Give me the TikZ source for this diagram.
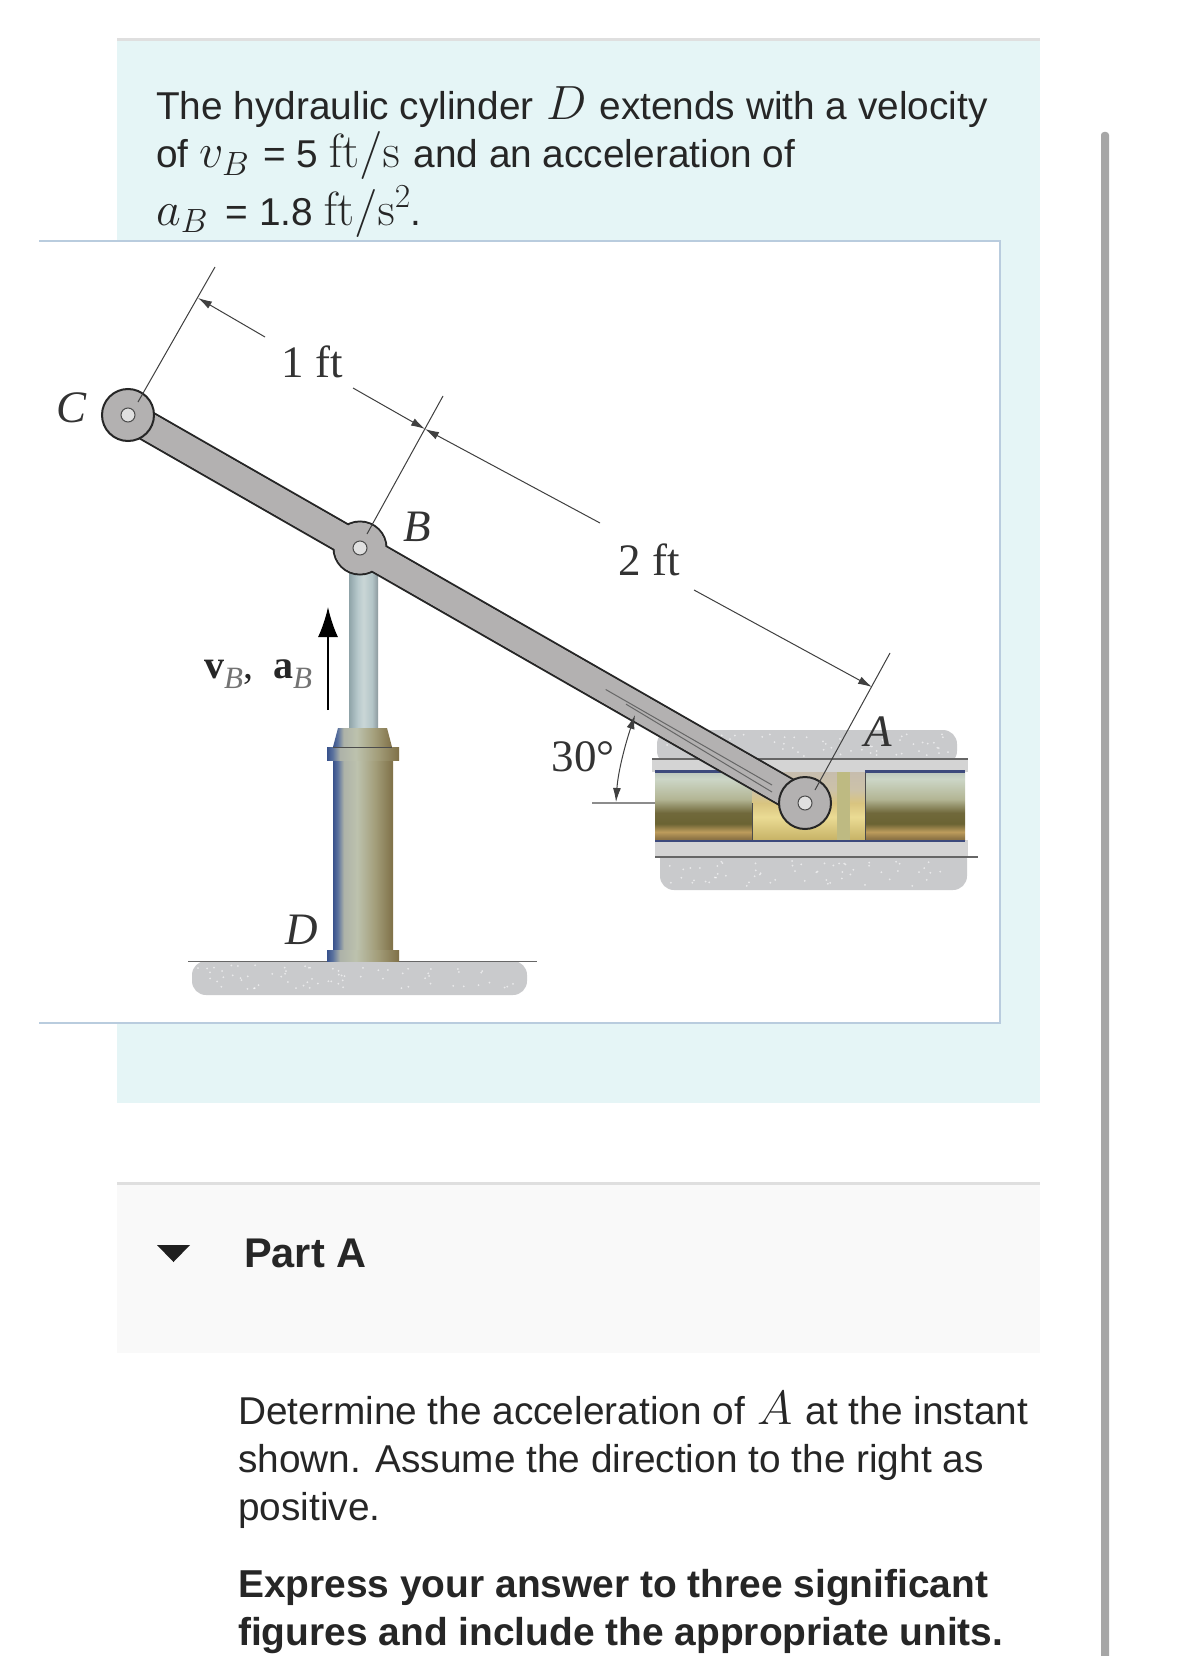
\RequirePackage{fix-cm}
\documentclass[tikz,border=0pt]{standalone}
\usepackage[no-math]{fontspec}
\usetikzlibrary{calc,arrows.meta}
\setmainfont{Liberation Sans}
\newfontfamily\figfont{Liberation Serif}

\definecolor{panelteal}{HTML}{E5F5F6}
\definecolor{panelgrey}{HTML}{F9F9F9}
\definecolor{ruleblue}{HTML}{B9CCDE}
\definecolor{rulegrey}{HTML}{DFDFDF}
\definecolor{linkgrey}{HTML}{B3B1B1}
\definecolor{soilgrey}{HTML}{C9CACC}
\definecolor{inkblack}{HTML}{262626}
\definecolor{tubeblue}{HTML}{3D4A7C}

\pgfdeclarehorizontalshading{rodshade}{100bp}{
  rgb(0bp)=(0.56,0.64,0.66); rgb(25bp)=(0.56,0.64,0.66); rgb(40bp)=(0.72,0.79,0.80);
  rgb(50bp)=(0.79,0.84,0.84); rgb(65bp)=(0.70,0.77,0.78); rgb(75bp)=(0.55,0.60,0.62); rgb(100bp)=(0.55,0.60,0.62)}
\pgfdeclarehorizontalshading{bodyshade}{100bp}{
  rgb(0bp)=(0.22,0.32,0.55); rgb(25bp)=(0.22,0.32,0.55); rgb(29bp)=(0.36,0.45,0.62); rgb(34bp)=(0.68,0.70,0.66);
  rgb(45bp)=(0.74,0.76,0.68); rgb(60bp)=(0.64,0.62,0.48); rgb(75bp)=(0.50,0.44,0.28); rgb(100bp)=(0.50,0.44,0.28)}
\pgfdeclareverticalshading{tubeshade}{100bp}{
  rgb(0bp)=(0.55,0.45,0.27); rgb(26bp)=(0.55,0.45,0.27); rgb(31bp)=(0.74,0.61,0.36);
  rgb(37bp)=(0.42,0.39,0.20); rgb(45bp)=(0.44,0.41,0.23); rgb(55bp)=(0.70,0.71,0.58);
  rgb(70bp)=(0.80,0.84,0.78); rgb(75bp)=(0.74,0.78,0.74); rgb(100bp)=(0.74,0.78,0.74)}
\pgfdeclareverticalshading{slideshade}{100bp}{
  rgb(0bp)=(0.78,0.70,0.40); rgb(25bp)=(0.78,0.70,0.40); rgb(42bp)=(0.92,0.86,0.58); rgb(52bp)=(0.85,0.77,0.50);
  rgb(62bp)=(0.80,0.76,0.66); rgb(75bp)=(0.78,0.74,0.68); rgb(100bp)=(0.78,0.74,0.68)}

\newcommand{\bigmath}[1]{{\fontsize{48}{47}\selectfont$#1$}}

\tikzset{
  soil/.style={fill=soilgrey,rounded corners=14pt},
  edgeline/.style={draw=black!85,line width=2pt},
  hingeface/.style={fill=linkgrey,edgeline},
  holeface/.style={fill=black!12,draw=black!70,line width=1pt,circle,minimum size=14pt,inner sep=0pt},
  thinline/.style={draw=black!75,line width=1pt},
  dimline/.style={thinline,-{Latex[length=14pt,width=8pt]}},
  figlabel/.style={font=\figfont\fontsize{45}{45}\selectfont\itshape,text=black!80,inner sep=0pt},
  dimlabel/.style={font=\figfont\fontsize{45}{45}\selectfont,text=black!80,inner sep=0pt},
  bodytext/.style={font=\fontsize{38.8}{47}\selectfont,text=inkblack,anchor=base west,inner sep=0pt},
  boldtext/.style={font=\fontsize{38.9}{47}\selectfont\bfseries,text=inkblack,anchor=base west,inner sep=0pt}
}

\begin{document}
\begin{tikzpicture}[x=1pt,y=-1pt]
  \useasboundingbox (0,0) rectangle (1179,1656);
  \fill[white] (0,0) rectangle (1179,1656);

  %% Panels behind the text
  \fill[panelteal] (117,38) rectangle (1040,1103);
  \fill[rulegrey] (117,38) rectangle (1040,41);
  \fill[panelgrey] (117,1182) rectangle (1040,1353);
  \fill[rulegrey] (117,1182) rectangle (1040,1185);
  \fill[black!35,rounded corners=3pt] (1101,132) rectangle (1109,1670);

  %% Figure frame, open on its left side
  \fill[white] (39,240) rectangle (1000,1023);
  \draw[ruleblue,line width=2.5pt] (39,241) -- (1000,241) -- (1000,1023) -- (39,1023);

  %% Problem statement
  \node[bodytext] (LINE1) at (156,120) {The hydraulic cylinder\hspace{2pt} \bigmath{D}\hspace{2pt} extends with a velocity};
  \node[bodytext] (LINE2) at (156,168) {of \bigmath{v_B}\hspace{3pt} = 5 \bigmath{\mathrm{ft/s}}\hspace{3pt} and an acceleration of};
  \node[bodytext] (LINE3) at (156,225) {\bigmath{a_B}\hspace{7pt} = 1.8 \bigmath{\mathrm{ft/s^2}}.};

  %% Ground under the cylinder
  \fill[soil] (192,961) rectangle (527,995);
  \pgfmathsetseed{7}
  \foreach \n in {1,...,70}
  {
    \fill[white,opacity=0.6] ({198+320*rnd},{965+24*rnd}) circle (1pt);
  }
  \draw[black!60,line width=1pt] (188,961) -- (537,961);

  %% Guide for the slider
  \fill[soil] (657,730) rectangle (957,765);
  \fill[soil] (660,845) rectangle (967,890);
  \foreach \n in {1,...,60}
  {
    \fill[white,opacity=0.6] ({665+285*rnd},{734+22*rnd}) circle (1pt);
    \fill[white,opacity=0.6] ({668+290*rnd},{860+26*rnd}) circle (1pt);
  }
  \fill[black!17] (652,759) rectangle (968,772);
  \fill[black!17] (655,840) rectangle (968,857);
  \draw[black!60,line width=1.5pt] (652,759) -- (968,759);
  \draw[black!60,line width=2pt] (655,857) -- (978,857);
  \shade[shading=tubeshade] (655,772) rectangle (965,840);
  \shade[shading=slideshade] (752,772) rectangle (865,840);
  \fill[black!30!olive!45] (837,772) rectangle (850,840);
  \draw[black!70,line width=1pt] (752,803) -- (752,840) (865,772) -- (865,840);
  \draw[tubeblue,line width=3pt] (655,771) -- (752,771) (865,771) -- (965,771);
  \draw[tubeblue,line width=2pt] (655,841) -- (965,841);

  %% Cylinder D
  \shade[shading=rodshade] (349,565) rectangle (378,728);
  \shade[shading=bodyshade] (333,760) rectangle (393,950);
  \shade[shading=bodyshade] (338,728) -- (387,728) -- (392,747) -- (333,747) -- cycle;
  \shade[shading=bodyshade] (327,747) rectangle (399,760);
  \shade[shading=bodyshade] (327,950) rectangle (399,961);
  \draw[black!70,line width=1pt] (333,747) -- (392,747);

  %% Hinge points and end points of the connectors
  \node[holeface] (C) at (128,415) {};
  \node[holeface] (B) at (360,548) {};
  \node[holeface] (A) at (805,803) {};
  \coordinate (CIN) at (138,402);
  \coordinate (COUT) at (215,267);
  \coordinate (BIN) at (367,534);
  \coordinate (BOUT) at (443,396);
  \coordinate (AIN) at (815,790);
  \coordinate (AOUT) at (890,653);

  %% Link from C to A, the hinge at B bulges out of it
  \coordinate (CU) at ($(C)!14.5pt!-90:(A)$);
  \coordinate (CL) at ($(C)!14.5pt!90:(A)$);
  \coordinate (AU) at ($(A)!14.5pt!90:(C)$);
  \coordinate (AL) at ($(A)!14.5pt!-90:(C)$);
  \draw[edgeline,fill=linkgrey] (B) circle (26.5pt);
  \draw[edgeline,fill=linkgrey] (CU) -- (AU) -- (AL) -- (CL) -- cycle;
  \fill[linkgrey] (B) circle (25.5pt);
  \fill[linkgrey] ($(C)!13.5pt!-90:(A)$) -- ($(A)!13.5pt!90:(C)$) -- ($(A)!13.5pt!-90:(C)$) -- ($(C)!13.5pt!90:(A)$) -- cycle;
  \draw[black!60,line width=1pt] ($(C)!0.71!(A)+(-3,-1)$) -- (772,785);
  \draw[black!60,line width=1pt] ($(C)!0.74!(A)+(-3,2)$) -- (772,792);
  \draw[hingeface] (C) circle (26pt);
  \draw[hingeface] (A) circle (26pt);
  \foreach \hinge in {C,B,A}
  {
    \node[holeface] at (\hinge) {};
  }

  %% Extension lines
  \draw[thinline] (CIN) -- (COUT);
  \draw[thinline] (BIN) -- (BOUT);
  \draw[thinline] (AIN) -- (AOUT);

  %% Length dimensions
  \coordinate (ONEL) at (198,298);
  \coordinate (ONEM) at (425,429);
  \coordinate (TWOR) at (872,687);
  \node[dimlabel] (ONEFT) at (312,362) {1 ft};
  \node[dimlabel] (TWOFT) at (649,560) {2 ft};
  \coordinate (ONEA) at (265,337);
  \coordinate (ONEB) at (353,388);
  \coordinate (TWOA) at (600,523);
  \coordinate (TWOB) at (694,590);
  \draw[dimline] (ONEA) -- (ONEL);
  \draw[dimline] (ONEB) -- (ONEM);
  \draw[dimline] (TWOA) -- (ONEM);
  \draw[dimline] (TWOB) -- (TWOR);

  %% Angle between link and horizontal
  \coordinate (HORL) at (592,803);
  \coordinate (HORR) at (655,803);
  \draw[black!45,line width=1.5pt] (HORL) -- (HORR);
  \draw[thinline,{Latex[length=14pt,width=8pt]}-{Latex[length=14pt,width=8pt]}] (635,715) .. controls (625,745) and (618,772) .. (616,802);
  \node[dimlabel] (ANGLE) at (583,757) {30\textdegree};

  %% Velocity arrow
  \coordinate (VTAIL) at (328,710);
  \coordinate (VTIP) at (328,607);
  \draw[black,line width=2pt,-{Latex[length=30pt,width=20pt]}] (VTAIL) -- (VTIP);
  \node[anchor=base west,inner sep=0pt,text=black!85,font=\figfont\fontsize{40}{40}\selectfont] (VB) at (204,678)
    {\textbf{v}\raisebox{-10pt}{\fontsize{31}{31}\selectfont\color{black!55}\textit{B}},\hspace{20pt}\textbf{a}\raisebox{-10pt}{\fontsize{31}{31}\selectfont\color{black!55}\textit{B}}};

  %% Point labels
  \node[figlabel] (LABC) at (72,408) {C};
  \node[figlabel] (LABB) at (417,527) {B};
  \node[figlabel] (LABA) at (878,732) {A};
  \node[figlabel] (LABD) at (302,930) {D};

  %% Part A
  \fill[black!88] (157,1245) -- (190,1245) -- (173.5,1262) -- cycle;
  \node[boldtext,font=\fontsize{41.5}{47}\selectfont\bfseries] (PART) at (244,1267) {Part A};
  \node[bodytext] (ASK1) at (238,1424) {Determine the acceleration of\hspace{2pt} \bigmath{A}\hspace{2pt} at the instant};
  \node[bodytext] (ASK2) at (238,1472) {shown. Assume the direction to the right as};
  \node[bodytext] (ASK3) at (238,1520) {positive.};
  \node[boldtext] (HOW1) at (238,1597) {Express your answer to three significant};
  \node[boldtext] (HOW2) at (238,1645) {figures and include the appropriate units.};
\end{tikzpicture}
\end{document}
